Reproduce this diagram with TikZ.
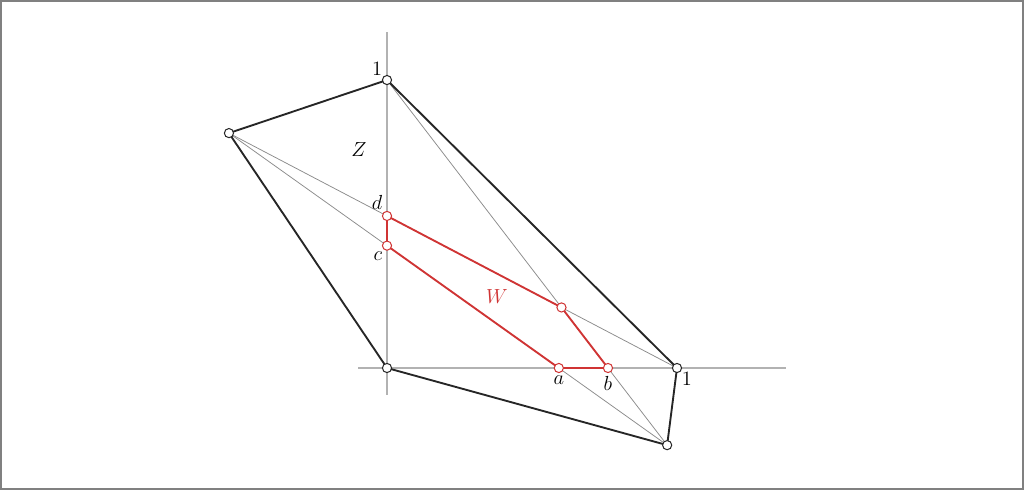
\documentclass[tikz,border=0pt]{standalone}
\definecolor{wred}{RGB}{208,52,52}
\begin{document}
\begin{tikzpicture}[x=6cm,y=6cm,
  every node/.style={font=\fontsize{11.5}{14}\selectfont},
  axis/.style={draw=black!30,line width=0.6pt},
  thin/.style={draw=black!45,line width=0.45pt},
  hull/.style={draw=black!85,line width=1.1pt,line join=round},
  wpoly/.style={draw=wred,line width=1.1pt,line join=round},
  dot/.style={circle,draw=black!85,fill=white,line width=0.6pt,inner sep=0pt,minimum size=0.19cm},
  rdot/.style={circle,draw=wred,fill=white,line width=0.6pt,inner sep=0pt,minimum size=0.19cm},
  lab/.style={inner sep=1.5pt}]
\useasboundingbox (-1.3345,-0.4207) rectangle (2.1966,1.269);
\draw[black!50,line width=1pt] ([shift={(0.5pt,0.5pt)}]-1.3345,-0.4207) rectangle ([shift={(-0.5pt,-0.5pt)}]2.1966,1.269);
% axes
\coordinate (xl) at (-0.1,0);
\coordinate (xr) at (1.376,0);
\coordinate (yb) at (0,-0.093);
\coordinate (yt) at (0,1.159);
\draw[axis] (xl) -- (xr);
\draw[axis] (yb) -- (yt);
% points
\coordinate (O) at (0,0);
\coordinate (X1) at (1,0);
\coordinate (Y1) at (0,0.993);
\coordinate (P) at (-0.545,0.810);
\coordinate (Q) at (0.966,-0.266);
\coordinate (d) at (intersection of P--X1 and O--Y1);
\coordinate (c) at (intersection of P--Q and O--Y1);
\coordinate (a) at (intersection of P--Q and O--X1);
\coordinate (b) at (intersection of Y1--Q and O--X1);
\coordinate (e) at (intersection of P--X1 and Y1--Q);
% thin lines
\draw[thin] (P) -- (X1);
\draw[thin] (P) -- (Q);
\draw[thin] (Y1) -- (Q);
% hull
\draw[hull] (P) -- (Y1) -- (X1) -- (Q) -- (O) -- cycle;
% W
\draw[wpoly] (d) -- (e) -- (b) -- (a) -- (c) -- cycle;
% dots
\node[dot] (nO) at (O) {};
\node[dot] (nX1) at (X1) {};
\node[dot] (nY1) at (Y1) {};
\node[dot] (nP) at (P) {};
\node[dot] (nQ) at (Q) {};
\node[rdot] (nd) at (d) {};
\node[rdot] (nc) at (c) {};
\node[rdot] (na) at (a) {};
\node[rdot] (nb) at (b) {};
\node[rdot] (ne) at (e) {};
% labels
\node[lab,anchor=south east] (l1y) at ([xshift=1pt,yshift=-1pt]nY1.north west) {$1$};
\node[lab,anchor=north west] (l1x) at ([xshift=-1pt,yshift=1pt]nX1.south east) {$1$};
\node[lab,anchor=south east] (ld) at ([xshift=1pt]nd.north west) {$d$};
\node[lab,anchor=north east] (lc) at ([xshift=1pt]nc.south west) {$c$};
\node[lab,anchor=north] (la) at (na.south) {$a$};
\node[lab,anchor=north] (lb) at (nb.south) {$b$};
\node (lZ) at (-0.0966,0.752) {$Z$};
\node[text=wred] (lW) at (0.379,0.245) {$W$};
\end{tikzpicture}
\end{document}
